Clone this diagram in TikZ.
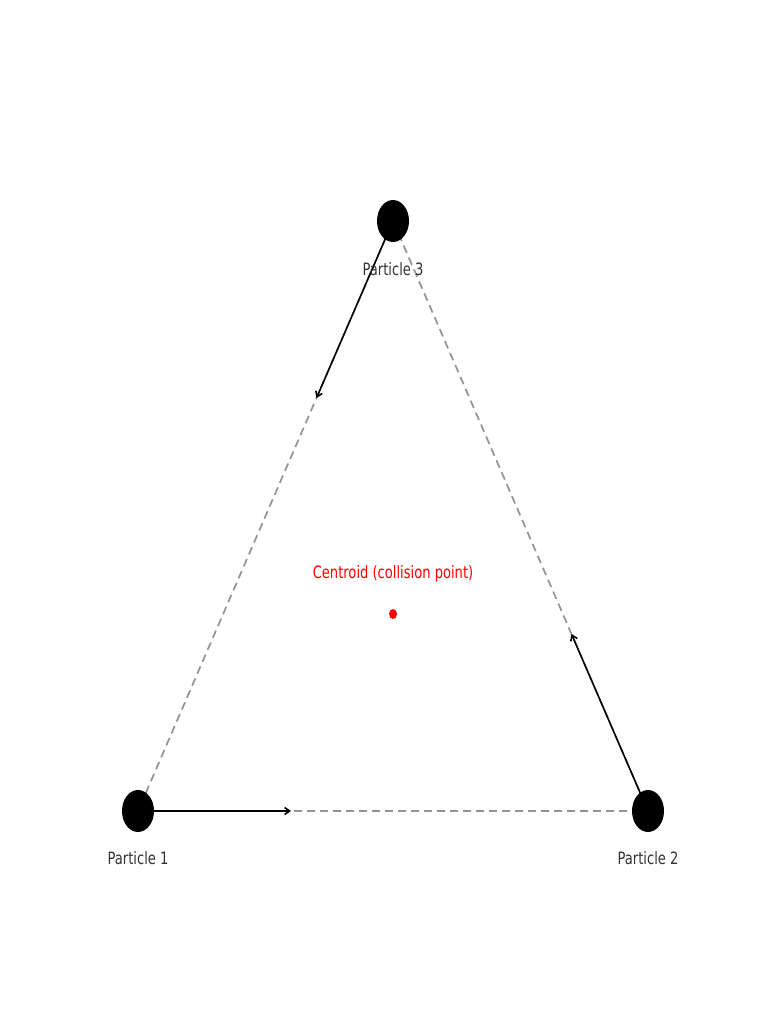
\documentclass[tikz,border=0pt]{standalone}
\usepackage{fontspec}
\setmainfont{DejaVu Sans}
\usetikzlibrary{arrows.meta,shapes.geometric,calc}
\begin{document}
\begin{tikzpicture}[x=1pt,y=-1pt,
  particle/.style={ellipse,fill=black,minimum width=32pt,minimum height=42pt,inner sep=0pt},
  lbl/.style={font=\fontsize{17}{20}\selectfont,text=black!80,xscale=0.77,inner sep=0pt},
  edge/.style={gray!85,dash pattern=on 8pt off 5pt,line width=1.7pt},
  vel/.style={black,line width=1.6pt,-{Straight Barb[length=5pt,width=7pt]}}]
\useasboundingbox (0,0) rectangle (768,1024);
\coordinate (c1) at (138,811);
\coordinate (c2) at (648,811);
\coordinate (c3) at (393,221);
\coordinate (v1) at ($(c1)!0.3!(c2)$);
\coordinate (v2) at ($(c2)!0.3!(c3)$);
\coordinate (v3) at ($(c3)!0.3!(c1)$);
\draw[edge] (c1) -- (c2) -- (c3) -- cycle;
\draw[vel] (c1) -- (v1);
\draw[vel] (c2) -- (v2);
\draw[vel] (c3) -- (v3);
\node[particle] (p1) at (c1) {};
\node[particle] (p2) at (c2) {};
\node[particle] (p3) at (c3) {};
\node[lbl] (l1) at (138,858) {Particle 1};
\node[lbl] (l2) at (648,858) {Particle 2};
\node[lbl] (l3) at (393,269) {Particle 3};
\node[ellipse,fill=red,minimum width=8pt,minimum height=10pt,inner sep=0pt] (cen) at (393,614) {};
\node[lbl,text=red] (cl) at (393,574) {Centroid (collision point)};
\end{tikzpicture}
\end{document}
